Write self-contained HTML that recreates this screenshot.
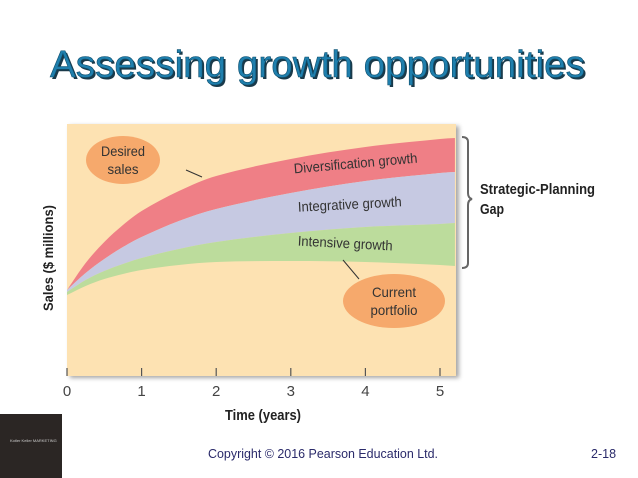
<!DOCTYPE html>
<html><head><meta charset="utf-8"><style>
body{margin:0;width:638px;height:478px;background:#fff;overflow:hidden;position:relative;font-family:"Liberation Sans",sans-serif}
</style></head><body>
<svg width="638" height="478" viewBox="0 0 638 478" style="position:absolute;left:0;top:0">
<defs><filter id="sh" x="-5%" y="-5%" width="115%" height="115%"><feDropShadow dx="3" dy="2" stdDeviation="2" flood-color="#000" flood-opacity="0.35"/></filter></defs>
<text x="50" y="77" textLength="535" lengthAdjust="spacingAndGlyphs" font-size="38" fill="#1a3a4a" transform="translate(2,2)">Assessing growth opportunities</text>
<text x="50" y="77" textLength="535" lengthAdjust="spacingAndGlyphs" font-size="38" fill="#1f7fad" stroke="#0e4f6e" stroke-width="0.6">Assessing growth opportunities</text>
<rect x="67" y="124" width="389" height="252" fill="#fde2b2" filter="url(#sh)"/>
<g id="bands"></g>
<g id="axis"></g>
<g font-size="14" fill="#333">
<ellipse cx="123" cy="160" rx="37" ry="24" fill="#f6a96c"/>
<text x="123" y="156" text-anchor="middle" textLength="44" lengthAdjust="spacingAndGlyphs">Desired</text>
<text x="123" y="174" text-anchor="middle" textLength="31" lengthAdjust="spacingAndGlyphs">sales</text>
<line x1="186" y1="170" x2="202" y2="177" stroke="#333" stroke-width="1"/>
</g>
<g font-size="14" fill="#333">
<ellipse cx="394" cy="301" rx="51" ry="27" fill="#f6a96c"/>
<text x="394" y="297" text-anchor="middle" textLength="44" lengthAdjust="spacingAndGlyphs">Current</text>
<text x="394" y="315" text-anchor="middle" textLength="47" lengthAdjust="spacingAndGlyphs">portfolio</text>
<line x1="343" y1="260" x2="359" y2="279" stroke="#333" stroke-width="1"/>
</g>
<g font-size="14" fill="#333">
<text x="356" y="168" text-anchor="middle" textLength="124" lengthAdjust="spacingAndGlyphs" transform="rotate(-5 356 168)">Diversification growth</text>
<text x="350" y="209" text-anchor="middle" textLength="104" lengthAdjust="spacingAndGlyphs" transform="rotate(-3 350 209)">Integrative growth</text>
<text x="345" y="248" text-anchor="middle" textLength="95" lengthAdjust="spacingAndGlyphs" transform="rotate(3 345 248)">Intensive growth</text>
</g>
<path d="M462 137 Q468 137 468 142 L468 193 Q468 198 472 199 Q468 200 468 205 L468 263 Q468 268 462 268" fill="none" stroke="#666" stroke-width="2"/>
<text x="480" y="194" textLength="115" lengthAdjust="spacingAndGlyphs" font-weight="bold" font-size="15" fill="#222">Strategic-Planning</text>
<text x="480" y="214" textLength="24" lengthAdjust="spacingAndGlyphs" font-weight="bold" font-size="15" fill="#222">Gap</text>
<text transform="translate(53 258) rotate(-90)" text-anchor="middle" textLength="106" lengthAdjust="spacingAndGlyphs" font-weight="bold" font-size="14" fill="#222">Sales ($ millions)</text>
<text x="263" y="420" text-anchor="middle" textLength="76" lengthAdjust="spacingAndGlyphs" font-weight="bold" font-size="15" fill="#222">Time (years)</text>
<rect x="0" y="414" width="62" height="64" fill="#2b2624"/>
<text x="10" y="442" font-size="4" fill="#ccc">Kotler Keller  MARKETING</text>
<text x="208" y="458" textLength="230" lengthAdjust="spacingAndGlyphs" font-size="12.5" fill="#2a2a6a">Copyright © 2016 Pearson Education Ltd.</text>
<text x="591" y="458" font-size="12.5" fill="#2a2a6a">2-18</text>
</svg>
<script>
const years=[0,0.25,0.5,0.75,1,1.5,2,3,4,5,5.2];
const desired=[86,113,134,151,165,185,200,217,229,237,238];
const integrativeTop=[86,103,117,129,139,155,167,183,195,203,204];
const intensiveTop=[84,96,105,112,118,127,134,143,149,152,153];
const current=[81,90,97,102,106,111,114,115,114,111,110];
const tickLabels=["0","1","2","3","4","5"];
const sx=t=>67+t*74.6;
const sy=v=>376-v;
const ns="http://www.w3.org/2000/svg";
function curve(vals,rev){
 const P=years.map((t,i)=>[sx(t),sy(vals[i])]);const n=P.length;
 const m=P.map((p,i)=>{const a=P[Math.max(0,i-1)],b=P[Math.min(n-1,i+1)];return (b[1]-a[1])/(b[0]-a[0]);});
 const segs=[];for(let i=0;i<n-1;i++){const dx=P[i+1][0]-P[i][0];
  segs.push([P[i],[P[i][0]+dx/3,P[i][1]+m[i]*dx/3],[P[i+1][0]-dx/3,P[i+1][1]-m[i+1]*dx/3],P[i+1]]);}
 let d="";
 if(!rev){d="M"+P[0][0]+" "+P[0][1];segs.forEach(s=>{d+="C"+s[1].join(" ")+" "+s[2].join(" ")+" "+s[3].join(" ");});}
 else{d="L"+P[n-1][0]+" "+P[n-1][1];segs.slice().reverse().forEach(s=>{d+="C"+s[2].join(" ")+" "+s[1].join(" ")+" "+s[0].join(" ");});}
 return d;}
const bands=[[desired,integrativeTop,"#ef7f86","band-diversification"],[integrativeTop,intensiveTop,"#c6c9e2","band-integrative"],[intensiveTop,current,"#bcdc9c","band-intensive"]];
const g=document.getElementById('bands');
bands.forEach(b=>{const p=document.createElementNS(ns,'path');p.setAttribute('d',curve(b[0],false)+curve(b[1],true)+"Z");p.setAttribute('fill',b[2]);


g.appendChild(p);});
const ax=document.getElementById('axis');
tickLabels.forEach((l,i)=>{const t=document.createElementNS(ns,'line');t.setAttribute('x1',sx(i));t.setAttribute('x2',sx(i));t.setAttribute('y1',368);t.setAttribute('y2',376);t.setAttribute('stroke','#555');t.setAttribute('stroke-width','1.2');


ax.appendChild(t);
const tx=document.createElementNS(ns,'text');tx.setAttribute('x',sx(i));tx.setAttribute('y',396);tx.setAttribute('text-anchor','middle');tx.setAttribute('font-size','15');tx.setAttribute('fill','#444');tx.textContent=l;


ax.appendChild(tx);});
</script>
</body></html>
